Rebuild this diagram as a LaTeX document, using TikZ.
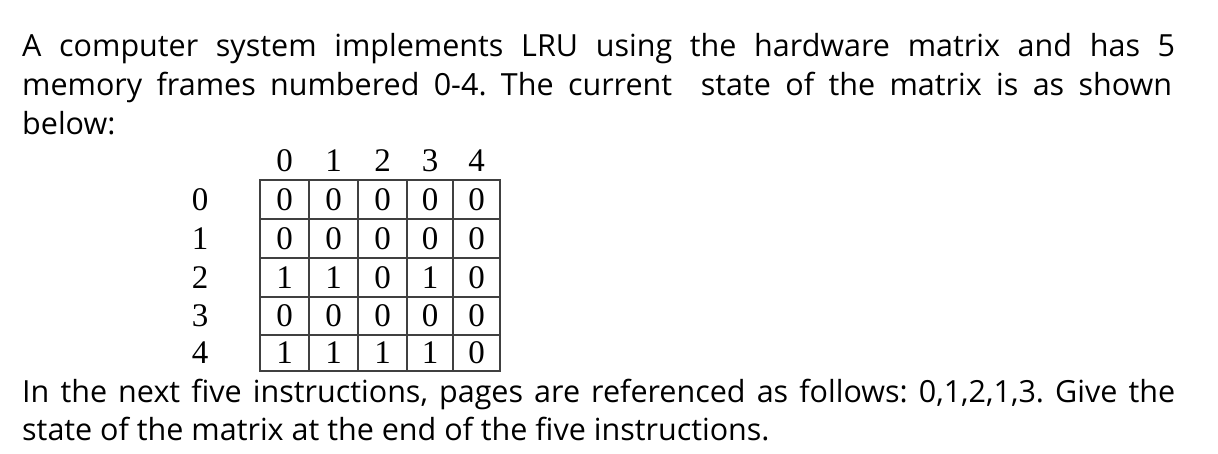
\documentclass[tikz,border=0pt]{standalone}
\usepackage{fontspec}
\setmainfont{Open Sans}
\newfontfamily\serifnum{Liberation Serif}
\frenchspacing
\begin{document}
\begin{tikzpicture}[x=1pt,y=-1pt,
  txt/.style={anchor=base west,inner sep=0pt,font=\fontsize{30.5}{34}\selectfont},
  num/.style={inner sep=0pt,font=\serifnum\fontsize{33}{34}\selectfont},
  cell/.style={draw=black!75,line width=1.3pt,minimum width=49pt,minimum height=38.5pt,inner sep=0pt,font=\serifnum\fontsize{33}{34}\selectfont}]
\useasboundingbox (0,0) rectangle (1218,453);
\node[txt] (l1) at (22,56) {\makebox[1153pt][s]{A computer system implements LRU using the hardware matrix and has 5}};
\node[txt] (l2) at (22,95) {\makebox[1150pt][s]{memory frames numbered 0-4. The current \ state of the matrix is as shown}};
\node[txt] (l3) at (22,134) {below:};
\node[txt] (l4) at (22,402) {\makebox[1153pt][s]{In the next five instructions, pages are referenced as follows: 0,1,2,1,3. Give the}};
\node[txt] (l5) at (22,440) {state of the matrix at the end of the five instructions.};
\foreach \c/\x in {0/284.5,1/333.5,2/382.5,3/430,4/476.5}
  \node[num] (h\c) at (\x,161) {\c};
\foreach \r/\y in {0/199.5,1/238.5,2/277.5,3/316,4/353}
  \node[num] (r\r) at (200,\y) {\r};
\foreach \r/\y/\h/\vals in {0/199.5/39/{0,0,0,0,0},1/238.5/39/{0,0,0,0,0},2/277.5/39/{1,1,0,1,0},3/316/38/{0,0,0,0,0},4/353/36/{1,1,1,1,0}}{
  \foreach \v [count=\ci from 0] in \vals {
    \pgfmathsetmacro\xl{{260,309,358,407,453}[\ci]}
    \pgfmathsetmacro\xr{{309,358,407,453,500}[\ci]}
    \node[cell,minimum width=\xr-\xl,minimum height=\h] (c\r\ci) at ({(\xl+\xr)/2},\y) {\v};
  }
}
\end{tikzpicture}
\end{document}
